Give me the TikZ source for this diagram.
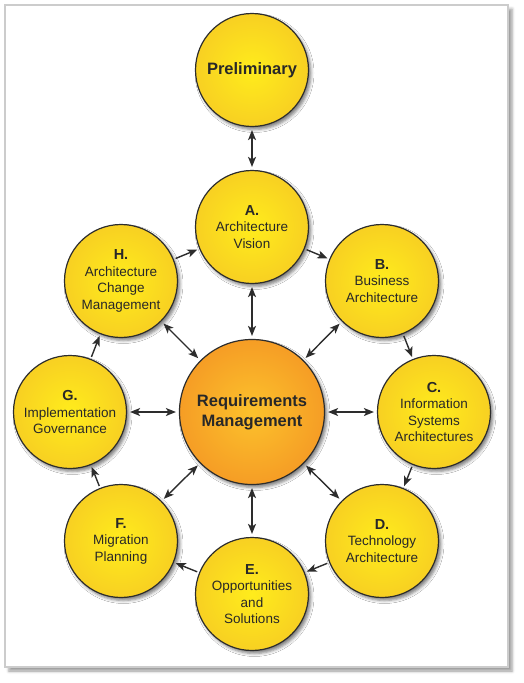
\documentclass[tikz,border=0pt]{standalone}
\usepackage{fontspec}
\setmainfont{Liberation Sans}
\usetikzlibrary{arrows.meta,shadows.blur}
\definecolor{ballin}{RGB}{255,236,28}
\definecolor{ballout}{RGB}{240,180,40}
\definecolor{reqin}{RGB}{252,194,44}
\definecolor{reqout}{RGB}{239,120,30}
\definecolor{linegray}{RGB}{45,45,45}
\definecolor{textgray}{RGB}{40,40,40}
\pgfdeclareradialshading{yellowball}{\pgfpoint{0bp}{0bp}}{color(0bp)=(ballin); color(50bp)=(ballout)}
\pgfdeclareradialshading{orangeball}{\pgfpoint{0bp}{0bp}}{color(0bp)=(reqin); color(50bp)=(reqout)}
\begin{document}
\begin{tikzpicture}[x=1pt, y=-1pt,
  phase/.style={circle, draw=linegray, line width=1.2pt, minimum size=113pt, inner sep=0pt,
    shading=yellowball, align=center, text=textgray, font=\fontsize{13.5}{16.5}\selectfont,
    blur shadow={shadow xshift=2.5pt, shadow yshift=-3pt, shadow blur radius=3pt, shadow opacity=50}},
  tip/.tip={Stealth[length=10pt,width=8pt,inset=2.5pt]},
  ring/.style={-tip, line width=1.4pt, draw=linegray, shorten >=2pt, shorten <=2pt},
  link/.style={tip-tip, line width=1.4pt, draw=linegray, shorten >=3pt, shorten <=3pt}]
\useasboundingbox (0,0) rectangle (524,683);
\draw[draw=gray!40, line width=1.5pt, fill=white,
  blur shadow={shadow xshift=4pt, shadow yshift=-4pt, shadow blur radius=3pt, shadow opacity=40}] (5,5) rectangle (508,667);
% phases
\node[phase, font=\bfseries\fontsize{16.5}{20}\selectfont] (P) at (252,70) {Preliminary};
\node[phase] (A) at (252,227) {{\bfseries\fontsize{14.5}{16.5}\selectfont A.}\\Architecture\\Vision};
\node[phase] (B) at (382,281) {{\bfseries\fontsize{14.5}{16.5}\selectfont B.}\\Business\\Architecture};
\node[phase] (C) at (434,412) {{\bfseries\fontsize{14.5}{16.5}\selectfont C.}\\Information\\Systems\\Architectures};
\node[phase] (D) at (382,541) {{\bfseries\fontsize{14.5}{16.5}\selectfont D.}\\Technology\\Architecture};
\node[phase] (E) at (252,594) {{\bfseries\fontsize{14.5}{16.5}\selectfont E.}\\Opportunities\\and\\Solutions};
\node[phase] (F) at (121,541) {{\bfseries\fontsize{14.5}{16.5}\selectfont F.}\\Migration\\Planning};
\node[phase] (G) at (70,412) {{\bfseries\fontsize{14.5}{16.5}\selectfont G.}\\Implementation\\Governance};
\node[phase] (H) at (121,281) {{\bfseries\fontsize{14.5}{16.5}\selectfont H.}\\Architecture\\Change\\Management};
\node[phase, minimum size=145pt, shading=orangeball, font=\bfseries\fontsize{16.5}{20}\selectfont] (R) at (252,412) {Requirements\\Management};
% cycle
\draw[link] (P) -- (A);
\draw[ring] (A) -- (B);
\draw[ring] (B) -- (C);
\draw[ring] (C) -- (D);
\draw[ring] (D) -- (E);
\draw[ring] (E) -- (F);
\draw[ring] (F) -- (G);
\draw[ring] (G) -- (H);
\draw[ring] (H) -- (A);
% requirements
\foreach \p in {A,B,C,D,E,F,G,H}
  \draw[link] (R) -- (\p);
\end{tikzpicture}
\end{document}
